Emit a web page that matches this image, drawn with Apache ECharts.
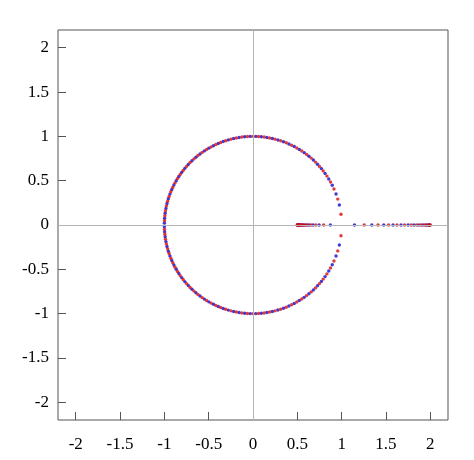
<!DOCTYPE html>
<html><head><meta charset="utf-8">
<script src="https://cdn.jsdelivr.net/npm/echarts@6/dist/echarts.min.js"></script>
<style>html,body{margin:0;padding:0;background:#fff}#c{width:474px;height:460px}</style>
</head><body><div id="c"></div>
<script>
// Tick labels (both axes)
const tickValues = [-2, -1.5, -1, -0.5, 0, 0.5, 1, 1.5, 2];

// Points on the unit circle, given as [radius, angle in degrees]
const circleRadius = 1;
const redUpperAngles = [7, 17, 24, 29, 33.5, 37.6, 41.4, 45.2, 49, 52.8, 56.6, 60.4, 64.2, 68, 71.8, 75.6, 79.2, 82.8, 86.4, 90, 93.6, 97.2, 100.8, 104.4, 108, 111.4, 114.8, 118.2, 121.6, 125, 128.4, 131.8, 135.2, 138.6, 142, 145.2, 148.4, 151.6, 154.8, 158, 161.2, 164.4, 167.6, 170.8, 174, 177.2];
const redLowerAngles = [-7, -17, -24, -29, -33.5, -37.6, -41.4, -45.2, -49, -52.8, -56.6, -60.4, -64.2, -68, -71.8, -75.6, -79.2, -82.8, -86.4, -90, -93.6, -97.2, -100.8, -104.4, -108, -111.4, -114.8, -118.2, -121.6, -125, -128.4, -131.8, -135.2, -138.6, -142, -145.2, -148.4, -151.6, -154.8, -158, -161.2, -164.4, -167.6, -170.8, -174, -177.2];
const blueUpperAngles = [13, 20.5, 26.6, 31.3, 35.6, 39.5, 43.3, 47.1, 50.9, 54.7, 58.5, 62.3, 66.1, 69.9, 73.7, 77.4, 81, 84.6, 88.2, 91.8, 95.4, 99, 102.6, 106.2, 109.7, 113.1, 116.5, 119.9, 123.3, 126.7, 130.1, 133.5, 136.9, 140.3, 143.6, 146.8, 150, 153.2, 156.4, 159.6, 162.8, 166, 169.2, 172.4, 175.6, 178.8];
const blueLowerAngles = [-13, -20.5, -26.6, -31.3, -35.6, -39.5, -43.3, -47.1, -50.9, -54.7, -58.5, -62.3, -66.1, -69.9, -73.7, -77.4, -81, -84.6, -88.2, -91.8, -95.4, -99, -102.6, -106.2, -109.7, -113.1, -116.5, -119.9, -123.3, -126.7, -130.1, -133.5, -136.9, -140.3, -143.6, -146.8, -150, -153.2, -156.4, -159.6, -162.8, -166, -169.2, -172.4, -175.6, -178.8];

// Points on the real axis (x values, y = 0)
const realAxisY = 0;
const blueRealX = [0.501, 0.506, 0.512, 0.522, 0.535, 0.551, 0.571, 0.599, 0.633, 0.678, 0.746, 0.873, 1.145, 1.34, 1.475, 1.58, 1.67, 1.75, 1.815, 1.87, 1.915, 1.952, 1.978, 1.995];
const redRealX = [0.5, 0.503, 0.509, 0.517, 0.528, 0.542, 0.56, 0.585, 0.615, 0.654, 0.709, 0.797, 1.255, 1.41, 1.53, 1.625, 1.71, 1.785, 1.845, 1.895, 1.935, 1.966, 1.988, 2.0];

const BLUE = '#0a0ad2';
const RED = '#dc0a0a';
const FONT = 'Liberation Serif';
const AXIS_COLOR = '#555555';
const DOT = 3.4;

const toPolar = arr => arr.map(a => [circleRadius, a]);
const toXY = arr => arr.map(x => [x, realAxisY]);

const axisCommon = {
  type: 'value',
  min: -2.2,
  max: 2.2,
  axisLine: { show: false, onZero: false },
  axisTick: { show: true, inside: true, length: 8, customValues: tickValues, lineStyle: { color: AXIS_COLOR, width: 1 } },
  axisLabel: { customValues: tickValues, color: '#000', fontFamily: FONT, fontSize: 17, formatter: v => String(v) },
  splitLine: { show: false }
};

const chart = echarts.init(document.getElementById('c'), null, { renderer: 'canvas' });
chart.setOption({
  animation: false,
  backgroundColor: '#fff',
  grid: { left: 58, top: 30, width: 390, height: 390, show: true, borderColor: AXIS_COLOR, borderWidth: 1, backgroundColor: 'transparent' },
  xAxis: Object.assign({}, axisCommon, { axisLabel: Object.assign({}, axisCommon.axisLabel, { margin: 16 }) }),
  yAxis: Object.assign({}, axisCommon, { axisLabel: Object.assign({}, axisCommon.axisLabel, { margin: 9 }) }),
  polar: { center: [253, 225], radius: 195 },
  radiusAxis: { min: 0, max: 2.2, axisLine: { show: false }, axisTick: { show: false }, axisLabel: { show: false }, splitLine: { show: false } },
  angleAxis: { type: 'value', min: -180, max: 180, startAngle: 180, clockwise: false, axisLine: { show: false }, axisTick: { show: false }, axisLabel: { show: false }, splitLine: { show: false } },
  series: [
    {
      type: 'scatter', xAxisIndex: 0, yAxisIndex: 0, data: [], silent: true,
      markLine: {
        silent: true, symbol: 'none', label: { show: false },
        lineStyle: { color: '#b4b4b4', width: 1, type: 'solid' },
        data: [{ xAxis: 0 }, { yAxis: 0 }]
      }
    },
    { type: 'scatter', coordinateSystem: 'polar', data: toPolar(blueUpperAngles.concat(blueLowerAngles)), symbolSize: DOT, itemStyle: { color: BLUE }, silent: true },
    { type: 'scatter', data: toXY(blueRealX), symbolSize: DOT, itemStyle: { color: BLUE }, silent: true },
    { type: 'scatter', coordinateSystem: 'polar', data: toPolar(redUpperAngles.concat(redLowerAngles)), symbolSize: DOT, itemStyle: { color: RED }, silent: true },
    { type: 'scatter', data: toXY(redRealX), symbolSize: DOT, itemStyle: { color: RED }, silent: true }
  ]
});
</script>
</body></html>
